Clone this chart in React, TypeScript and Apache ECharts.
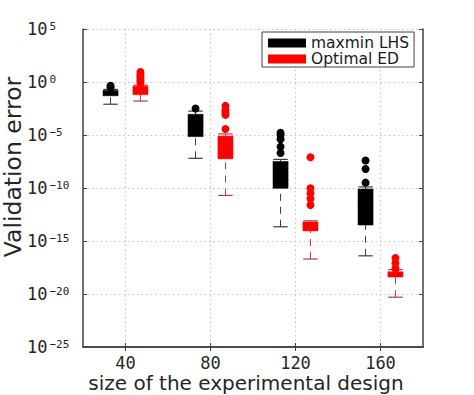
import React, { useEffect, useRef, useState } from "react";
import * as echarts from "echarts";

const designSizes = ["40", "80", "120", "160"];
const seriesNames = ["maxmin LHS", "Optimal ED"];
// decade exponents of the y tick labels (10^e)
const yTickExponents = { min: -25, max: 5, step: 5 };

// [lower whisker, Q1, median, Q3, upper whisker]
const lhsBoxes = [
  [8e-3, 5e-2, 1e-1, 1.6e-1, 2e-1],
  [6.3e-8, 7e-6, 5e-5, 9e-4, 1.8e-3],
  [2.2e-14, 9.3e-11, 1.6e-9, 3.2e-8, 5e-8],
  [4e-17, 3.2e-14, 3.2e-12, 8e-11, 1.26e-10],
];
const optBoxes = [
  [1.6e-2, 6.3e-2, 1.6e-1, 4e-1, 5e-1],
  [2e-11, 5.6e-8, 5e-7, 7.9e-6, 1.26e-5],
  [2e-17, 8.9e-15, 2.5e-14, 6.3e-14, 8e-14],
  [5e-21, 4e-19, 8e-19, 1.26e-18, 2e-18],
];
// [design index, value]
const lhsOutliers = [
  [0, 3e-1], [0, 4.5e-1],
  [1, 3.2e-3],
  [2, 2e-7], [2, 8e-7], [2, 4e-6], [2, 1e-5], [2, 1.6e-5],
  [3, 3.2e-10], [3, 6.3e-9], [3, 4e-8],
];
const optOutliers = [
  [0, 0.8], [0, 1.26], [0, 2], [0, 3.2], [0, 5], [0, 8.9],
  [1, 3.7e-5], [1, 8e-4], [1, 1.4e-3], [1, 2.2e-3], [1, 5.6e-3],
  [2, 8e-8], [2, 9.3e-11], [2, 3.2e-11], [2, 1e-11], [2, 2.5e-12],
  [3, 2.5e-18], [3, 8e-18], [3, 2.5e-17],
];

const OFFSET = 0.176;
const BOXW = 0.178;

function boxRenderer(side: number, fill: string, whisker: string) {
  return (params: any, api: any) => {
    const idx = api.value(0);
    const band = api.size([1, 0])[0];
    const cx = api.coord([idx, api.value(1)])[0] + side * band * OFFSET;
    const y = [1, 2, 3, 4, 5].map((d) => api.coord([idx, api.value(d)])[1]);
    const w = band * BOXW;
    const cw = w * 0.95;
    const dash = { stroke: whisker, lineWidth: 1, lineDash: [7, 6] };
    const solid = { stroke: whisker, lineWidth: 1.2 };
    return {
      type: "group",
      children: [
        { type: "line", shape: { x1: cx, y1: y[0], x2: cx, y2: y[1] }, style: dash },
        { type: "line", shape: { x1: cx, y1: y[3], x2: cx, y2: y[4] }, style: dash },
        { type: "line", shape: { x1: cx - cw / 2, y1: y[0], x2: cx + cw / 2, y2: y[0] }, style: solid },
        { type: "line", shape: { x1: cx - cw / 2, y1: y[4], x2: cx + cw / 2, y2: y[4] }, style: solid },
        { type: "rect", shape: { x: cx - w / 2, y: y[3], width: w, height: y[1] - y[3] }, style: { fill, stroke: fill, lineWidth: 0.5 } },
        { type: "line", shape: { x1: cx - w / 2, y1: y[2], x2: cx + w / 2, y2: y[2] }, style: { stroke: fill, lineWidth: 1 } },
      ],
    };
  };
}

function outlierRenderer(side: number, fill: string) {
  return (params: any, api: any) => {
    const idx = api.value(0);
    const band = api.size([1, 0])[0];
    const p = api.coord([idx, api.value(1)]);
    return {
      type: "circle",
      shape: { cx: p[0] + side * band * OFFSET, cy: p[1], r: 4 },
      style: { fill },
    };
  };
}

const fmtExp = (e: number) => {
  const r = Math.round(e);
  const s = r < 0 ? "\u2212" + -r : String(r);
  return `{b|10}{s|${s}}`;
};

const labelFont = "DejaVu Sans Mono";
const textColor = "#262626";
const frameColor = "#404040";
const gridLine = { show: true, lineStyle: { color: "#c4c4c4", type: [1.5, 3] as any, width: 1 } };

export default function App() {
  const ref = useRef<HTMLDivElement>(null);
  const [err, setErr] = useState("");
  useEffect(() => {
    const chart = echarts.init(ref.current!, null, { renderer: "svg" });
    const lhsData = lhsBoxes.map((b, i) => [i, ...b]);
    const optData = optBoxes.map((b, i) => [i, ...b]);
    const logAxis = {
      type: "log",
      logBase: 10,
      min: Math.pow(10, yTickExponents.min),
      max: Math.pow(10, yTickExponents.max),
      interval: yTickExponents.step,
    };
    try {
      chart.setOption({
        animation: false,
        backgroundColor: "#ffffff",
        grid: { left: 83, right: 51, top: 29, bottom: 48, outerBoundsMode: "none" },
        legend: {
          left: 262,
          top: 32,
          orient: "vertical",
          data: seriesNames,
          icon: "rect",
          itemWidth: 38,
          itemHeight: 9,
          itemGap: 0,
          padding: [3, 5, 0, 6],
          borderColor: frameColor,
          borderWidth: 1,
          backgroundColor: "#ffffff",
          textStyle: { fontFamily: "DejaVu Sans", fontSize: 15.5, color: "#1a1a1a" },
        },
        xAxis: [
          {
            type: "category",
            data: designSizes,
            boundaryGap: true,
            axisLine: { show: true, lineStyle: { color: frameColor, width: 1.5 } },
            axisTick: { show: true, inside: true, alignWithLabel: true, length: 4, lineStyle: { color: frameColor } },
            splitLine: { ...gridLine, alignWithLabel: true },
            axisLabel: { fontFamily: labelFont, fontSize: 17, color: textColor, margin: 7 },
          },
          {
            type: "category",
            data: designSizes,
            position: "top",
            boundaryGap: true,
            axisLine: { show: true, lineStyle: { color: frameColor, width: 1.5 } },
            axisTick: { show: true, inside: true, alignWithLabel: true, length: 4, lineStyle: { color: frameColor } },
            axisLabel: { show: false },
            splitLine: { show: false },
          },
        ],
        yAxis: [
          {
            ...logAxis,
            axisLine: { show: true, lineStyle: { color: frameColor, width: 1.5 } },
            axisTick: { show: true, inside: true, length: 4, lineStyle: { color: frameColor } },
            splitLine: gridLine,
            axisLabel: { show: false },
          },
          {
            ...logAxis,
            position: "right",
            axisLine: { show: true, lineStyle: { color: frameColor, width: 1.5 } },
            axisTick: { show: true, inside: true, length: 4, lineStyle: { color: frameColor } },
            axisLabel: { show: false },
            splitLine: { show: false },
          },
          {
            type: "value",
            min: yTickExponents.min,
            max: yTickExponents.max,
            interval: yTickExponents.step,
            position: "left",
            axisLine: { show: false },
            axisTick: { show: false },
            splitLine: { show: false },
            axisLabel: {
              formatter: fmtExp,
              align: "left",
              margin: 56,
              rich: {
                b: { fontFamily: labelFont, fontSize: 17, lineHeight: 17, color: textColor, padding: [6, 0, 6, 0] },
                s: { fontFamily: labelFont, fontSize: 11, lineHeight: 11, color: textColor, verticalAlign: "top", padding: [0, 0, 18, 2] },
              },
            },
          },
        ],
        graphic: [
          {
            type: "text",
            x: 13,
            y: 167,
            rotation: Math.PI / 2,
            style: { text: "Validation error", fontFamily: "DejaVu Sans", fontSize: 23.5, fill: textColor, align: "center", verticalAlign: "middle" },
          },
          {
            type: "text",
            x: 246,
            y: 383,
            style: { text: "size of the experimental design", fontFamily: "DejaVu Sans", fontSize: 20, fill: textColor, align: "center", verticalAlign: "middle" },
          },
        ],
        series: [
          {
            name: seriesNames[0],
            type: "custom",
            itemStyle: { color: "#000000" },
            encode: { x: 0, y: [1, 2, 3, 4, 5] },
            data: lhsData,
            renderItem: boxRenderer(-1, "#000000", "#3a3a3a"),
            z: 3,
          },
          {
            name: seriesNames[1],
            type: "custom",
            itemStyle: { color: "#ff0000" },
            encode: { x: 0, y: [1, 2, 3, 4, 5] },
            data: optData,
            renderItem: boxRenderer(1, "#ff0000", "#b03a50"),
            z: 3,
          },
          {
            name: seriesNames[0],
            type: "custom",
            itemStyle: { color: "#000000" },
            encode: { x: 0, y: 1 },
            data: lhsOutliers,
            renderItem: outlierRenderer(-1, "#000000"),
            z: 4,
          },
          {
            name: seriesNames[1],
            type: "custom",
            itemStyle: { color: "#ff0000" },
            encode: { x: 0, y: 1 },
            data: optOutliers,
            renderItem: outlierRenderer(1, "#ff0000"),
            z: 4,
          },
        ],
      });
    } catch (e: any) {
      setErr(String(e && e.stack ? e.stack : e));
    }
    return () => chart.dispose();
  }, []);
  return (
    <>
      <div ref={ref} style={{ width: 474, height: 395, position: "absolute", left: 0, top: 0 }} />
      {err ? <pre style={{ position: "absolute", left: 0, top: 0, fontSize: 9, whiteSpace: "pre-wrap", width: 470 }}>{err}</pre> : null}
    </>
  );
}
